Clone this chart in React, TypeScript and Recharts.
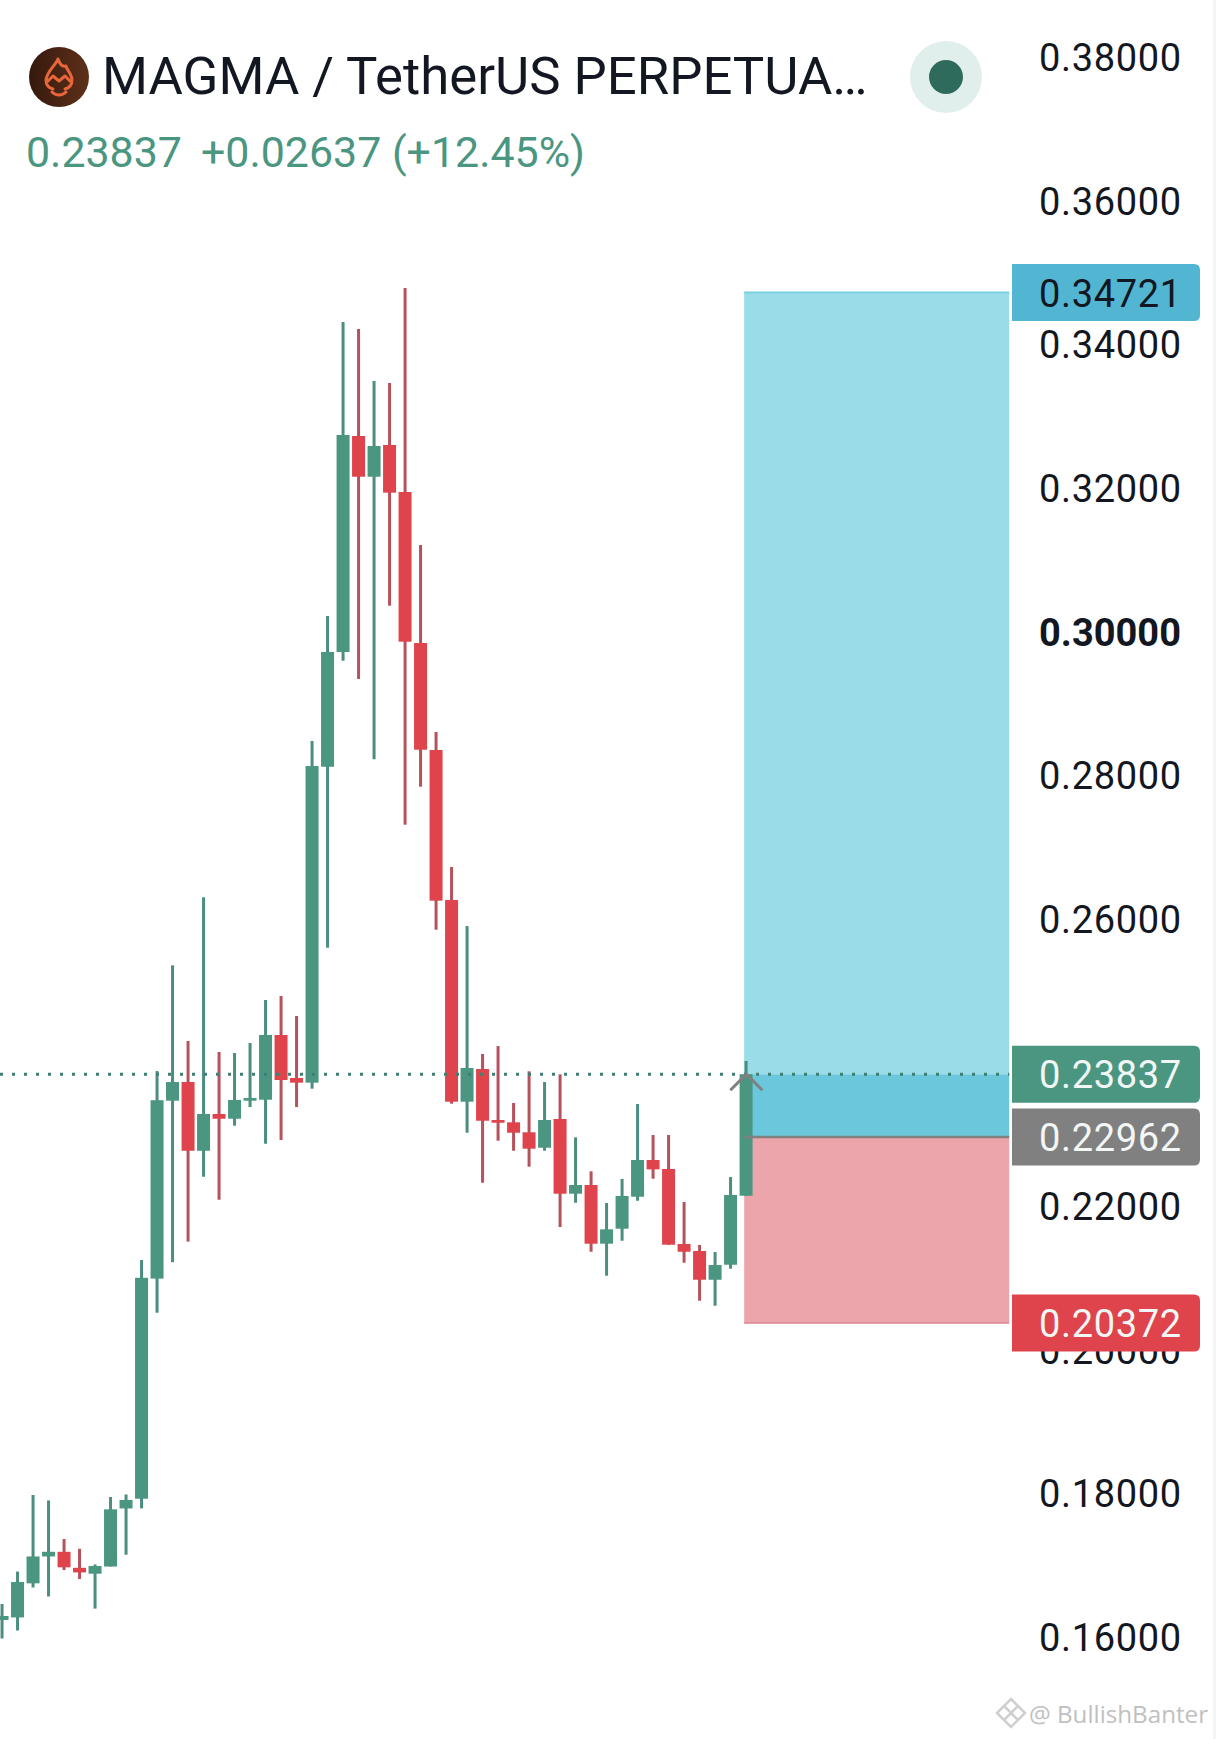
import React from "react";
import { ComposedChart, Bar, XAxis, YAxis, ReferenceArea, ReferenceLine, ReferenceDot } from "recharts";

// candle values, oldest first
const opens = [0.16237, 0.16273, 0.16748, 0.17122, 0.17187, 0.16964, 0.16882, 0.16982, 0.17791, 0.17926, 0.20991, 0.23468, 0.23728, 0.22771, 0.23283, 0.23217, 0.23468, 0.23482, 0.24383, 0.23784, 0.23719, 0.28118, 0.29716, 0.32723, 0.32156, 0.32598, 0.31943, 0.29841, 0.28351, 0.26262, 0.23454, 0.23909, 0.23199, 0.23167, 0.23028, 0.22813, 0.23213, 0.22173, 0.22294, 0.21477, 0.21686, 0.22131, 0.22642, 0.22517, 0.21473, 0.21375, 0.20975, 0.21184, 0.22145];
const closes = [0.16293, 0.16766, 0.17122, 0.17187, 0.16971, 0.169, 0.16989, 0.17778, 0.17908, 0.21002, 0.23475, 0.23728, 0.22771, 0.23283, 0.23217, 0.23478, 0.23505, 0.24383, 0.23756, 0.23719, 0.28128, 0.29716, 0.32737, 0.32156, 0.32584, 0.31934, 0.29859, 0.28355, 0.26253, 0.23454, 0.23923, 0.23189, 0.23161, 0.23022, 0.228, 0.23199, 0.22173, 0.22294, 0.21477, 0.21677, 0.22141, 0.22642, 0.22512, 0.21463, 0.21365, 0.20975, 0.2118, 0.22155, 0.23837];
const highs = [0.1646, 0.16912, 0.17978, 0.17902, 0.17365, 0.17229, 0.17011, 0.1795, 0.17985, 0.2125, 0.23881, 0.25353, 0.24299, 0.263, 0.24146, 0.24132, 0.24271, 0.2487, 0.24926, 0.24647, 0.28476, 0.30217, 0.3431, 0.34213, 0.33489, 0.33461, 0.34784, 0.31205, 0.28602, 0.26722, 0.259, 0.24118, 0.24229, 0.23436, 0.23877, 0.23728, 0.23835, 0.22958, 0.22485, 0.22043, 0.22378, 0.23422, 0.2299, 0.2299, 0.22057, 0.21459, 0.21361, 0.22405, 0.24021];
const lows = [0.1598, 0.16091, 0.1669, 0.16565, 0.16933, 0.16808, 0.16396, 0.16982, 0.17146, 0.17791, 0.20516, 0.21219, 0.21506, 0.22409, 0.22089, 0.2312, 0.2338, 0.22869, 0.22921, 0.2338, 0.23635, 0.25598, 0.29594, 0.2934, 0.28222, 0.3036, 0.27311, 0.2784, 0.25849, 0.23426, 0.23022, 0.22326, 0.22911, 0.22771, 0.22549, 0.22771, 0.21709, 0.22047, 0.21365, 0.21031, 0.21518, 0.22075, 0.22382, 0.21463, 0.21212, 0.20683, 0.20613, 0.21129, 0.22145];

const priceTicks = [0.38, 0.36, 0.34, 0.32, 0.3, 0.28, 0.26, 0.24, 0.22, 0.2, 0.18, 0.16];
const hiddenTick = 0.24; // covered by the price chips in the original

const lastPrice = 0.23837;
const entryPrice = 0.22962;
const targetPrice = 0.34721;
const stopPrice = 0.20372;
const chipPrices = [targetPrice, lastPrice, entryPrice, stopPrice];

const GREEN = "#4A9681";
const GREEN_WICK = "#4B8E7F";
const RED = "#DF444C";
const RED_WICK = "#B5525C";
const INK = "#131722";

const candles = opens.map((open, i) => ({
  i,
  open,
  close: closes[i],
  high: highs[i],
  low: lows[i],
  range: [lows[i], highs[i]],
}));

function Candle(props: any) {
  const { x, y, width, height, payload } = props;
  const up = payload.close >= payload.open;
  const perUnit = Math.abs(height) / (payload.high - payload.low);
  const top = y + (payload.high - Math.max(payload.open, payload.close)) * perUnit;
  const bodyH = Math.abs(payload.close - payload.open) * perUnit;
  const mid = x + width / 2;
  return (
    <g>
      <rect x={mid - 1.5} y={y} width={3} height={Math.abs(height)} fill={up ? GREEN_WICK : RED_WICK} />
      <rect x={x} y={top} width={width} height={bodyH} fill={up ? GREEN : RED} />
    </g>
  );
}

function PriceTick(props: any) {
  const { y, payload } = props;
  if (payload.value === hiddenTick) return null;
  const bold = payload.value === 0.3;
  return (
    <text x={1039} y={y} dy={14} fontSize={38} fontFamily="Roboto" fontWeight={bold ? 700 : 400} fill={INK} textLength={142}>
      {payload.value.toFixed(5)}
    </text>
  );
}

const chipColors: Record<string, string> = {
  [String(targetPrice)]: "#52B5D2",
  [String(lastPrice)]: GREEN,
  [String(entryPrice)]: "#808080",
  [String(stopPrice)]: RED,
};

function PriceChip(props: any) {
  const { y, payload } = props;
  const isTarget = payload.value === targetPrice;
  const top = y - 28.5;
  return (
    <g>
      <path
        d={`M1012 ${top} H1194 Q1200 ${top} 1200 ${top + 6} V${top + 51} Q1200 ${top + 57} 1194 ${top + 57} H1012 Z`}
        fill={chipColors[String(payload.value)]}
      />
      <text x={1039} y={y} dy={14} fontSize={38} fontFamily="Roboto" fill={isTarget ? INK : "#F2F7F6"} textLength={142}>
        {payload.value.toFixed(5)}
      </text>
    </g>
  );
}

function Chevron(props: any) {
  const { cx, cy } = props;
  return <path d={`M${cx - 16} ${cy + 16} L${cx} ${cy} L${cx + 16} ${cy + 16}`} fill="none" stroke="#808080" strokeWidth={3} />;
}

export default function App() {
  const zoneStart = 47.86;
  const zoneEnd = 64.96;
  return (
    <div style={{ position: "absolute", left: 0, top: 0, width: 1216, height: 1739, background: "#fff", overflow: "hidden", fontFamily: "Roboto" }}>
      <ComposedChart width={1216} height={1739} data={candles} margin={{ top: 0, right: 0, bottom: 0, left: 0 }}>
        <XAxis dataKey="i" type="number" domain={[-0.148, 78.3]} hide allowDataOverflow />
        <YAxis
          orientation="right"
          mirror
          domain={[0.145805, 0.387937]}
          ticks={priceTicks}
          interval={0}
          axisLine={false}
          tickLine={false}
          tick={<PriceTick />}
          allowDataOverflow
        />
        <YAxis
          yAxisId="chips"
          orientation="right"
          mirror
          domain={[0.145805, 0.387937]}
          ticks={chipPrices}
          interval={0}
          axisLine={false}
          tickLine={false}
          tick={<PriceChip />}
          allowDataOverflow
        />
        <ReferenceArea x1={zoneStart} x2={zoneEnd} y1={lastPrice} y2={targetPrice} fill="#9ADDE9" fillOpacity={1} stroke="none" />
        <ReferenceArea x1={zoneStart} x2={zoneEnd} y1={entryPrice} y2={lastPrice} fill="#6BC7DC" fillOpacity={1} stroke="none" />
        <ReferenceArea x1={zoneStart} x2={zoneEnd} y1={stopPrice} y2={entryPrice} fill="#ECA6AB" fillOpacity={1} stroke="none" />
        <ReferenceLine segment={[{ x: zoneStart, y: targetPrice }, { x: zoneEnd, y: targetPrice }]} stroke="#7CCFE0" strokeWidth={2} />
        <ReferenceLine segment={[{ x: zoneStart, y: stopPrice }, { x: zoneEnd, y: stopPrice }]} stroke="#D98590" strokeWidth={1.5} />
        <ReferenceLine segment={[{ x: zoneStart, y: entryPrice }, { x: zoneEnd, y: entryPrice }]} stroke="#808080" strokeWidth={2.5} />
        <ReferenceDot x={48} y={lastPrice} r={16} shape={<Chevron />} />
        <Bar dataKey="range" barSize={13} shape={<Candle />} isAnimationActive={false} />
        <ReferenceLine segment={[{ x: -0.148, y: lastPrice }, { x: zoneEnd, y: lastPrice }]} stroke="#3F7F74" strokeWidth={3} strokeDasharray="3 9" />
      </ComposedChart>

      <svg width={60} height={60} viewBox="0 0 60 60" style={{ position: "absolute", left: 29, top: 47 }}>
        <defs>
          <linearGradient id="magma" x1="0" y1="0" x2="1" y2="0">
            <stop offset="0" stopColor="#35190E" />
            <stop offset="1" stopColor="#5E3019" />
          </linearGradient>
        </defs>
        <circle cx={30} cy={30} r={30} fill="url(#magma)" />
        <path d="M29 12 C27 18 18 24 17 33 C17 38 20 41 24 42 M29 12 C31 18 34 20 37 19 C37 22 43 27 43 33 C43 38 40 41 36 42 M19 34 L24 29 L30 34 L36 29 L41 34 M23 45 C27 49 33 49 37 45" fill="none" stroke="#E8663A" strokeWidth={3} strokeLinecap="round" strokeLinejoin="round" />
      </svg>
      <div style={{ position: "absolute", left: 102, top: 45, fontSize: 52.7, lineHeight: "63px", color: INK, whiteSpace: "nowrap" }}>
        MAGMA / TetherUS PERPETUA…
      </div>
      <div style={{ position: "absolute", left: 910, top: 41, width: 72, height: 72, borderRadius: 36, background: "#E1EFEC" }} />
      <div style={{ position: "absolute", left: 929, top: 60, width: 34, height: 34, borderRadius: 17, background: "#2F6B5C" }} />

      <div style={{ position: "absolute", left: 26, top: 127, fontSize: 42.9, lineHeight: "50px", color: GREEN, whiteSpace: "nowrap" }}>0.23837</div>
      <div style={{ position: "absolute", left: 201, top: 127, fontSize: 42.9, lineHeight: "50px", color: GREEN, whiteSpace: "nowrap" }}>+0.02637 (+12.45%)</div>

      <svg width={32} height={32} viewBox="0 0 32 32" style={{ position: "absolute", left: 995, top: 1697 }}>
        <path d="M16 2 L23 9 L16 16 L9 9 Z M16 16 L23 23 L16 30 L9 23 Z M9 9 L2 16 L9 23 M23 9 L30 16 L23 23" fill="none" stroke="#CFCFCF" strokeWidth={2.5} />
      </svg>
      <div style={{ position: "absolute", left: 1029, top: 1698, fontSize: 24.2, lineHeight: "32px", color: "#C0C0C0", fontFamily: "Open Sans", whiteSpace: "nowrap" }}>
        @ BullishBanter
      </div>
      <div style={{ position: "absolute", left: 1213, top: 0, width: 3, height: 1739, background: "#F4F4F4" }} />
    </div>
  );
}
